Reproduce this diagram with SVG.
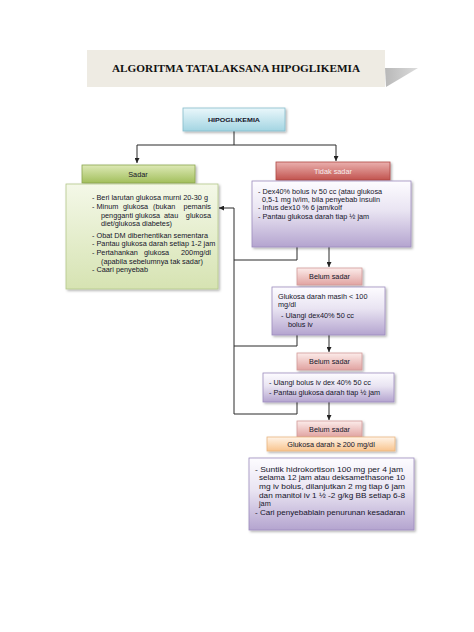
<svg xmlns="http://www.w3.org/2000/svg" width="474" height="632" viewBox="0 0 474 632">
<defs>
<linearGradient id="gTitleSh" x1="0" y1="0" x2="1" y2="0"><stop offset="0" stop-color="#b8b8b8"/><stop offset="1" stop-color="#dcdcdc"/></linearGradient>
<linearGradient id="gBlue" x1="0" y1="0" x2="0" y2="1"><stop offset="0" stop-color="#eaf7fb"/><stop offset="1" stop-color="#a3d5e2"/></linearGradient>
<linearGradient id="gGreenH" x1="0" y1="0" x2="0" y2="1"><stop offset="0" stop-color="#dde9b6"/><stop offset="1" stop-color="#a2bf5c"/></linearGradient>
<linearGradient id="gGreen" x1="0" y1="0" x2="0" y2="1"><stop offset="0" stop-color="#f4f8e8"/><stop offset="1" stop-color="#d6e3b2"/></linearGradient>
<linearGradient id="gRed" x1="0" y1="0" x2="0" y2="1"><stop offset="0" stop-color="#eab0ae"/><stop offset="1" stop-color="#c2544f"/></linearGradient>
<linearGradient id="gPurple" x1="0" y1="0" x2="0" y2="1"><stop offset="0" stop-color="#fdfcff"/><stop offset="0.45" stop-color="#e9e4f2"/><stop offset="1" stop-color="#b4a4cf"/></linearGradient>
<linearGradient id="gPink" x1="0" y1="0" x2="0" y2="1"><stop offset="0" stop-color="#fcecea"/><stop offset="1" stop-color="#e1a3a1"/></linearGradient>
<linearGradient id="gOrange" x1="0" y1="0" x2="0" y2="1"><stop offset="0" stop-color="#fff4e8"/><stop offset="1" stop-color="#f8c48e"/></linearGradient>
<filter id="sh" x="-10%" y="-10%" width="130%" height="140%"><feDropShadow dx="1.5" dy="1.5" stdDeviation="1" flood-color="#000" flood-opacity="0.3"/></filter>
<marker id="ah" viewBox="0 0 6 6" refX="6" refY="3" markerWidth="5" markerHeight="5" orient="auto"><path d="M0,0 L6,3 L0,6 z" fill="#222"/></marker>
</defs>
<style>
text{font-family:"Liberation Sans",Arial,sans-serif;fill:#15152a;}
.t{font-size:7.3px;}
.h{font-size:7.3px;text-anchor:middle;}
.title{font-family:"Liberation Serif","Times New Roman",serif;font-weight:bold;font-size:11px;text-anchor:middle;fill:#111;}
.c{fill:none;stroke:#2a2a2a;stroke-width:1;}
.box{stroke-width:0.8;filter:url(#sh);}
</style>
<rect width="474" height="632" fill="#ffffff"/>

<g id="title">
<polygon points="385,68 418,68 386,87" fill="url(#gTitleSh)"/>
<rect x="87" y="50" width="298" height="37" fill="#eeebe3"/>
<text class="title" x="236" y="72" textLength="248" lengthAdjust="spacingAndGlyphs">ALGORITMA TATALAKSANA HIPOGLIKEMIA</text>
</g>

<g id="connectors">
<path class="c" d="M234,131 V145 M137,145 H336"/>
<path class="c" d="M137,145 V163" marker-end="url(#ah)"/>
<path class="c" d="M336,145 V161" marker-end="url(#ah)"/>
<path class="c" d="M297,247 V260 H234 M297,335 V346 H234 M297,402 V414 H234 V208" />
<path class="c" d="M234,208 H219" marker-end="url(#ah)"/>
<path class="c" d="M329,247 V267" marker-end="url(#ah)"/>
<path class="c" d="M329,335 V352" marker-end="url(#ah)"/>
<path class="c" d="M329,402 V420" marker-end="url(#ah)"/>
</g>

<g id="hipoglikemia">
<rect class="box" x="183" y="108" width="102" height="23" fill="url(#gBlue)" stroke="#86bccb"/>
<text class="h" x="234" y="122" style="font-size:6.2px;font-weight:bold" textLength="52" lengthAdjust="spacingAndGlyphs">HIPOGLIKEMIA</text>
</g>

<g id="sadar">
<rect class="box" x="82" y="165" width="113" height="18" fill="url(#gGreenH)" stroke="#8ca64e"/>
<text class="h" x="138" y="177">Sadar</text>
</g>

<g id="sadar-tindakan">
<rect class="box" x="66" y="184" width="152" height="105" fill="url(#gGreen)" stroke="#b3c78a"/>
<text class="t" x="92" y="200">- Beri larutan glukosa murni 20-30 g</text>
<text class="t" y="209"><tspan x="92">- Minum</tspan><tspan x="123">glukosa</tspan><tspan x="153">(bukan</tspan><tspan x="211" text-anchor="end">pemanis</tspan></text>
<text class="t" y="218"><tspan x="101">pengganti</tspan><tspan x="135">glukosa</tspan><tspan x="164">atau</tspan><tspan x="211" text-anchor="end">glukosa</tspan></text>
<text class="t" x="101" y="226">diet/glukosa diabetes)</text>
<text class="t" x="92" y="238">- Obat DM diberhentikan sementara</text>
<text class="t" x="92" y="246">- Pantau glukosa darah setiap 1-2 jam</text>
<text class="t" y="255"><tspan x="92">- Pertahankan</tspan><tspan x="144">glukosa</tspan><tspan x="211" text-anchor="end">200mg/dl</tspan></text>
<text class="t" x="101" y="264">(apabila sebelumnya tak sadar)</text>
<text class="t" x="92" y="272">- Caari penyebab</text>
</g>

<g id="tidak-sadar">
<rect class="box" x="276" y="162" width="114" height="18" fill="url(#gRed)" stroke="#b04845"/>
<text class="h" x="333" y="174" style="fill:#f7eeee">Tidak sadar</text>
</g>

<g id="tidak-sadar-tindakan">
<rect class="box" x="252" y="181" width="159" height="66" fill="url(#gPurple)" stroke="#9d8dbd"/>
<text class="t" x="258" y="194">- Dex40% bolus iv 50 cc (atau glukosa</text>
<text class="t" x="262" y="202">0,5-1 mg iv/im, bila penyebab insulin</text>
<text class="t" x="258" y="210">- Infus dex10 % 6 jam/kolf</text>
<text class="t" x="258" y="219">- Pantau glukosa darah tiap ½ jam</text>
</g>

<g id="belum-sadar-1">
<rect class="box" x="297" y="268" width="65" height="17" fill="url(#gPink)" stroke="#d29a98"/>
<text class="h" x="329.5" y="279">Belum sadar</text>
</g>

<g id="glukosa-100">
<rect class="box" x="272" y="287" width="113" height="48" fill="url(#gPurple)" stroke="#9d8dbd"/>
<text class="t" x="278" y="299">Glukosa darah masih &lt; 100</text>
<text class="t" x="278" y="307">mg/dl</text>
<text class="t" x="281" y="318">- Ulangi dex40% 50 cc</text>
<text class="t" x="288" y="327">bolus iv</text>
</g>

<g id="belum-sadar-2">
<rect class="box" x="297" y="353" width="65" height="17" fill="url(#gPink)" stroke="#d29a98"/>
<text class="h" x="329.5" y="364">Belum sadar</text>
</g>

<g id="ulangi-bolus">
<rect class="box" x="263" y="373" width="131" height="29" fill="url(#gPurple)" stroke="#9d8dbd"/>
<text class="t" x="269" y="385">- Ulangi bolus iv dex 40% 50 cc</text>
<text class="t" x="269" y="395">- Pantau glukosa darah tiap ½ jam</text>
</g>

<g id="belum-sadar-3">
<rect class="box" x="297" y="421" width="65" height="16" fill="url(#gPink)" stroke="#d29a98"/>
<text class="h" x="329.5" y="431.5">Belum sadar</text>
</g>

<g id="glukosa-200">
<rect class="box" x="267" y="437" width="128" height="14" fill="url(#gOrange)" stroke="#e8b47e"/>
<text class="h" x="331" y="446.5">Glukosa darah ≥ 200 mg/dl</text>
</g>

<g id="tindakan-lanjut">
<rect class="box" x="249" y="458" width="165" height="72" fill="url(#gPurple)" stroke="#9d8dbd"/>
<text class="t" x="255" y="472" textLength="148" lengthAdjust="spacingAndGlyphs">- Suntik hidrokortison 100 mg per 4 jam</text>
<text class="t" x="259" y="480" textLength="146" lengthAdjust="spacingAndGlyphs">selama 12 jam atau deksamethasone 10</text>
<text class="t" x="259" y="489" textLength="146" lengthAdjust="spacingAndGlyphs">mg iv bolus, dilanjutkan 2 mg tiap 6 jam</text>
<text class="t" x="259" y="498" textLength="146" lengthAdjust="spacingAndGlyphs">dan manitol iv 1 ½ -2 g/kg BB setiap 6-8</text>
<text class="t" x="259" y="506">jam</text>
<text class="t" x="255" y="515" textLength="150" lengthAdjust="spacingAndGlyphs">- Cari penyebablain penurunan kesadaran</text>
</g>
</svg>
